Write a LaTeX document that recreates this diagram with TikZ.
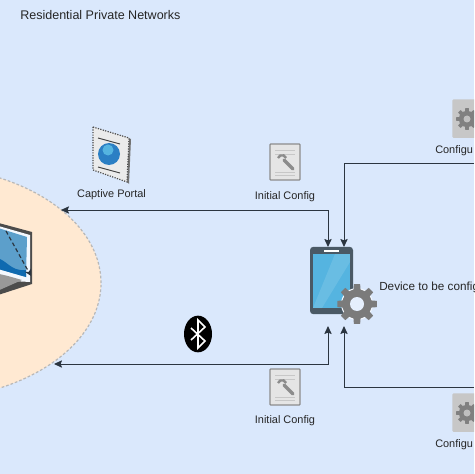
\documentclass[tikz,border=0pt]{standalone}
\usepackage{fontspec}
\setmainfont{Liberation Sans}
\usetikzlibrary{positioning, arrows.meta, shapes.geometric, calc}
\definecolor{skybg}{HTML}{DAE8FC}
\definecolor{lanfill}{HTML}{FFE9D2}
\definecolor{phonedark}{HTML}{4A5965}
\definecolor{phoneblue}{HTML}{55B4E0}
\definecolor{geargray}{HTML}{7B7B7B}
\definecolor{wirecol}{HTML}{2B3540}
\definecolor{lapblue}{HTML}{5C9FCB}
\definecolor{lapdeep}{HTML}{0F6AB0}
\definecolor{globeblue}{HTML}{2B7FC4}
\tikzset{
  pics/gearicon/.style args={#1/#2}{code={
    \fill[#1] (0,0) circle[radius=0.74*#2];
    \foreach \a in {0,45,...,315} {
      \fill[#1] ({\a-15}:0.7*#2) -- ({\a-9}:#2) -- ({\a+9}:#2) -- ({\a+15}:0.7*#2) -- cycle;
    }
  }}
}
\begin{document}
\begin{tikzpicture}[
    x=0.75pt, y=-0.75pt,
    every node/.style={font=\fontsize{8.2}{10}\selectfont, text=black!85, inner sep=0pt},
    bigtext/.style={font=\fontsize{8.8}{10}\selectfont},
    wire/.style={draw=wirecol, line width=0.7pt},
    flow/.style={wire, -{Stealth[length=6pt,width=5.5pt,inset=1pt]}},
    flowboth/.style={wire, {Stealth[length=6pt,width=5.5pt,inset=1pt]}-{Stealth[length=6pt,width=5.5pt,inset=1pt]}},
    docicon/.style={draw=black!45, line width=0.9pt, rounded corners=0.6pt, fill=black!10, minimum width=22.5pt, minimum height=27pt},
    cfgicon/.style={fill=black!22, rounded corners=1pt, minimum width=24pt, minimum height=29pt},
  ]
  \useasboundingbox (0,0) rectangle (474,474);
  \clip (0,0) rectangle (474,474);
  \fill[skybg] (0,0) rectangle (474,474);

  \node[anchor=west, font=\fontsize{9.4}{11}\selectfont] (title) at (20,15.5) {Residential Private Networks};

  % home network area
  \node[ellipse, draw=black!28, dash pattern=on 2pt off 1.5pt, line width=0.9pt, fill=lanfill,
        minimum width=271.5pt, minimum height=175.5pt] (lan) at (-80,283) {};

  % laptop
  \fill[black!70] (-5,222) -- (32,232) -- (32,284) -- (-5,296) -- cycle;
  \fill[white!70!skybg] (-5,225) -- (30,235) -- (30,282) -- (-5,280) -- cycle;
  \fill[lapblue] (-5,227) -- (27,237) -- (26,277) -- (-5,268) -- cycle;
  \fill[lapdeep] (-5,258) .. controls (6,258) and (10,272) .. (26,270) -- (26,277) -- (-5,268) -- cycle;
  \fill[black!40] (-5,273) -- (8,276) -- (22,280) -- (-5,292) -- cycle;
  \coordinate (wifistart) at (6,231);
  \coordinate (wifiend) at (31,276);
  \draw[wire, densely dashed, line width=0.9pt, -{Stealth[length=5pt,width=5pt]}] (wifistart) -- (wifiend);

  % captive portal page
  \fill[black!55] (95,128) -- (131,139) -- (129,184) -- (127,182) -- (129,138) -- cycle;
  \fill[black!8, draw=black!70, densely dotted, line width=0.9pt]
    (93,127) -- (129,138) -- (127,182) -- (93,170) -- cycle;
  \draw[black!75, line width=0.7pt] (98,138) -- (120,144) (98,167) -- (120,173);
  \node[circle, minimum size=16.5pt, fill=globeblue] (globe) at (109,154) {};
  \fill[phoneblue] (108,150) circle[radius=5.5];
  \node (portallbl) at (111.5,195) {Captive Portal};

  % initial config pages
  \node[docicon] (initdoca) at (285,162) {};
  \node (initlbla) at (285,197) {Initial Config};
  \node[docicon] (initdocb) at (285,387) {};
  \node (initlblb) at (285,421) {Initial Config};
  \foreach \d in {initdoca, initdocb} {
    \draw[black!22, line width=0.5pt]
      ($(\d)+(-10,-12)$) -- ($(\d)+(10,-12)$) ($(\d)+(-10,-8)$) -- ($(\d)+(10,-8)$)
      ($(\d)+(-10,10)$) -- ($(\d)+(10,10)$) ($(\d)+(-10,13)$) -- ($(\d)+(10,13)$);
    \draw[black!45, line width=2.4pt, line cap=round] ($(\d)+(-1,-2)$) -- ($(\d)+(8,7)$);
    \draw[black!45, line width=1.8pt] ($(\d)+(-7,-4)$) arc[start angle=200, end angle=340, radius=4.3];
  }

  % bluetooth
  \node[ellipse, fill=black, minimum width=21pt, minimum height=27.5pt] (btooth) at (198,334) {};
  \draw[white, line width=1.2pt, line join=miter]
    ($(btooth)+(-7,-6)$) -- ($(btooth)+(7,7)$) -- ($(btooth)+(0,14)$) -- ($(btooth)+(0,-14)$)
    -- ($(btooth)+(7,-7)$) -- ($(btooth)+(-7,6)$);

  % right side config boxes
  \node[cfgicon, anchor=north west] (cfgboxa) at (452,99) {};
  \pic at (467,119) {gearicon={black!50/11}};
  \fill[black!25] (467,119) circle[radius=3.5];
  \node[anchor=west] (cfglbla) at (435,151) {Configu};
  \node[cfgicon, anchor=north west] (cfgboxb) at (452,393) {};
  \pic at (467,413) {gearicon={black!50/11}};
  \fill[black!25] (467,413) circle[radius=3.5];
  \node[anchor=west] (cfglblb) at (435,445) {Configu};

  % phone
  \node[fill=phonedark, rounded corners=2.5pt, minimum width=32.25pt, minimum height=50.5pt] (phone) at (331.5,280.5) {};
  \fill[phoneblue] (313,254) rectangle (350,308);
  \fill[white, opacity=.12] (335,254) -- (350,254) -- (350,262) -- (322,308) -- (313,308) -- cycle;
  \fill[white] (324,250) rectangle (339,252);
  \coordinate (gearhub) at (357,304);
  \fill[white!70!skybg] (gearhub) circle[radius=16];
  \pic at (gearhub) {gearicon={geargray/20}};
  \fill[skybg!70!white] (gearhub) circle[radius=7];
  \node[anchor=west, bigtext] (phonelbl) at (379,287) {Device to be configu};

  % connectors
  \coordinate (lanhigh) at (61,210);
  \coordinate (lanlow) at (54,364);
  \coordinate (phonetopl) at (328,247);
  \coordinate (phonetopr) at (344,247);
  \coordinate (phonebotl) at (328,326);
  \coordinate (phonebotr) at (344,326);
  \coordinate (exita) at (474,163);
  \coordinate (exitb) at (474,387);
  \draw[flowboth] (lanhigh) -- (phonetopl |- lanhigh) -- (phonetopl);
  \draw[flowboth] (lanlow) -- (phonebotl |- lanlow) -- (phonebotl);
  \draw[flow] (exita) -- (phonetopr |- exita) -- (phonetopr);
  \draw[flow] (exitb) -- (phonebotr |- exitb) -- (phonebotr);
\end{tikzpicture}
\end{document}
